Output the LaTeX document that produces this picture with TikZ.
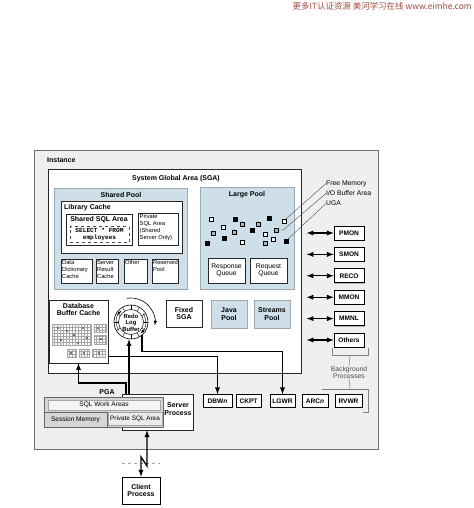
\documentclass[tikz,border=0pt]{standalone}
\usepackage{fontspec}
\setmainfont{Liberation Sans}
\setmonofont{Liberation Mono}
\newfontfamily\cjkfont{Noto Sans CJK SC}
\usetikzlibrary{shadows}
\usetikzlibrary{arrows}

\definecolor{instfill}{HTML}{EFEFEF}
\definecolor{instline}{HTML}{6E6E6E}
\definecolor{poolfill}{HTML}{CFDFEA}
\definecolor{poolline}{HTML}{9AAAB5}
\definecolor{pgafill}{HTML}{D6D6D6}
\definecolor{markred}{HTML}{9E4B3C}

\tikzset{
	lbl/.style={font=\bfseries\fontsize{7}{8}\selectfont, inner sep=0pt, align=center},
	txt/.style={font=\fontsize{6.8}{7.6}\selectfont, inner sep=0pt, align=center},
	tiny/.style={font=\fontsize{5.8}{7}\selectfont, inner sep=0pt, align=left},
	area/.style={draw=black!85, fill=white, line width=0.6pt, inner sep=0pt},
	pool/.style={draw=poolline, fill=poolfill, line width=0.6pt, inner sep=0pt},
	proc/.style={draw=black, fill=white, line width=0.7pt, inner sep=0pt, minimum height=13bp,
		font=\bfseries\fontsize{6.6}{7.4}\selectfont, align=center,
		drop shadow={shadow xshift=0.9bp, shadow yshift=-0.9bp, fill=gray!60, opacity=1}},
	flow/.style={line width=1.3pt, -latex},
	dflow/.style={line width=1.3pt, latex-latex},
	callout/.style={draw=black!70, line width=0.4pt},
	bracket/.style={draw=gray, line width=0.5pt},
	gridline/.style={draw=gray!70, line width=0.25pt},
	cell/.style={draw=black, line width=0.35pt, minimum size=4bp, inner sep=0pt},
}

\begin{document}
\begin{tikzpicture}[x=1bp, y=-1bp]
	\useasboundingbox (0,0) rectangle (474,508);
	\node[anchor=east, text=markred, font=\cjkfont\fontsize{8.5}{9}\selectfont, inner sep=0pt] (wm) at (472,6) {更多IT认证资源 美河学习在线 www.eimhe.com};

	% Instance and SGA
	\node[draw=instline, fill=instfill, line width=0.8pt, minimum width=344bp, minimum height=299bp, inner sep=0pt] (inst) at (206,299.5) {};
	\node[lbl, anchor=west] (inst-t) at (47,160) {Instance};
	\node[area, minimum width=253bp, minimum height=204bp] (sga) at (174.5,271) {};
	\node[lbl] (sga-t) at (176,179) {System Global Area (SGA)};

	% Shared pool
	\node[pool, minimum width=133bp, minimum height=101bp] (shp) at (120.5,238.5) {};
	\node[lbl] (shp-t) at (121,195) {Shared Pool};
	\node[area, minimum width=121bp, minimum height=52bp] (lib) at (121.5,227) {};
	\node[lbl, anchor=west] (lib-t) at (64,207.5) {Library Cache};
	\node[area, minimum width=66bp, minimum height=31bp] (ssql) at (99,229.5) {};
	\node[lbl] (ssql-t) at (99,219.5) {Shared SQL Area};
	\node[draw=black!70, dashed, line width=0.4pt, minimum width=59bp, minimum height=16bp, inner sep=0pt,
		font=\ttfamily\bfseries\fontsize{6.2}{6.8}\selectfont, align=center] (sel) at (99.5,234.5) {SELECT * FROM\\employees};
	\node[area, minimum width=40bp, minimum height=32bp] (psql) at (158,229) {};
	\node[tiny, anchor=north west] (psql-t) at (139.5,214.5) {Private\\SQL Area\\(Shared\\Server Only)};
	\foreach \n/\x/\w/\t in {ddc/76.5/31/{Data\\Dictionary\\Cache}, src/107/22/{Server\\Result\\Cache}, oth2/135.5/23/{Other}, rsv/165/26/{Reserved\\Pool}} {
		\node[area, minimum width=\w bp, minimum height=24bp] (\n) at (\x,271) {};
		\node[tiny, anchor=north west] (\n-t) at ([shift={(1.2bp,-1.2bp)}]\n.north west) {\t};
	}

	% Large pool
	\node[pool, minimum width=94bp, minimum height=102bp] (lgp) at (247,238) {};
	\node[lbl] (lgp-t) at (247,194.5) {Large Pool};
	\node[area, txt, minimum width=37bp, minimum height=25bp, anchor=center] (resq) at (226.5,270.5) {Response\\Queue};
	\node[area, txt, minimum width=37bp, minimum height=25bp, anchor=center] (reqq) at (268.5,270.5) {Request\\Queue};
	\foreach \x/\y/\c [count=\i] in {211/219/white, 235/219/black, 242/224/gray!60, 269/218/black, 258/224/gray!60,
		284/221/white, 223/227/white, 234/232/gray!60, 252/230/black, 265/234/white, 276/230/gray!60,
		213/233/gray!60, 224/238/black, 242/242/white, 265/243/gray!60, 273/239/white, 286/241/black, 207/243/black}
		\node[cell, fill=\c] (sq\i) at (\x,\y) {};
	\node[txt, anchor=west] (fm-t) at (326,183.5) {Free Memory};
	\node[txt, anchor=west] (io-t) at (326,193.5) {I/O Buffer Area};
	\node[txt, anchor=west] (uga-t) at (326,203.5) {UGA};
	\draw[callout] (sq6.north east) -- (fm-t.west);
	\draw[callout] (sq11.east) -- ++(5,0) -- (io-t.west);
	\draw[callout] (sq17.north east) -- (uga-t.west);

	% Database buffer cache
	\node[area, minimum width=59bp, minimum height=63bp] (bc) at (78.5,331.5) {};
	\node[lbl] (bc-t) at (78.5,309.5) {Database\\Buffer Cache};
	\foreach \a/\b/\c/\d in {52/324/91/345, 94/324/106/332, 94/335/106/344, 67/349/76/357, 79/349/89/357, 92/349/105/357} {
		\draw[gridline, step=3bp] (\a,\b) grid (\c,\d);
		\draw[gridline] (\a,\b) rectangle (\c,\d);
	}
	\foreach \x/\y in {57/327, 66/330, 73/334, 82/327, 60/339, 77/342, 86/337, 97/327, 100/338, 70/352, 83/352, 98/352}
		\fill[black!55] (\x,\y) rectangle ++(2,1.5);

	% Redo log buffer
	\node[circle, draw=black, fill=white, line width=0.6pt, minimum size=34bp, inner sep=0pt] (redo) at (131,322) {};
	\draw[line width=0.5pt] (redo.center) circle[radius=12.5bp];
	\foreach \a in {0,30,...,330}
		\draw[line width=0.4pt] (redo.center) ++(\a:12.5bp) -- ++(\a:4.5bp);
	\draw[line width=0.4pt, -latex] (redo.center) ++(215:14.7bp) arc[start angle=215, end angle=130, radius=14.7bp];
	\draw[line width=0.4pt, -latex] (redo.center) ++(35:14.7bp) arc[start angle=35, end angle=-50, radius=14.7bp];
	\draw[line width=0.6pt, -latex] (redo.center) ++(100:24bp) arc[start angle=100, end angle=-8, radius=24bp];
	\node[lbl, font=\bfseries\fontsize{5.9}{6.6}\selectfont] (redo-t) at (131,322.5) {Redo\\Log\\Buffer};

	% Fixed SGA, Java pool, Streams pool
	\node[area, lbl, minimum width=36bp, minimum height=27bp] (fix) at (184,313.5) {Fixed\\SGA};
	\node[pool, lbl, minimum width=36bp, minimum height=28bp] (java) at (229,314) {Java\\Pool};
	\node[pool, lbl, minimum width=36bp, minimum height=28bp] (strm) at (272,314) {Streams\\Pool};

	% Background processes
	\foreach \n/\t [count=\i from 0] in {pmon/PMON, smon/SMON, reco/RECO, mmon/MMON, mmnl/MMNL, oth/Others} {
		\node[proc, minimum width=30bp, minimum height=14bp] (\n) at (349,233+21.4*\i) {\t};
		\draw[dflow] (\n.west) -- ++(-27,0);
	}
	\foreach \n/\t/\x/\w in {dbwr/{DBW\textit{n}}/217.5/29, ckpt/CKPT/248.5/25, lgwr/LGWR/282.5/25, arcn/{ARC\textit{n}}/315/26, rvwr/RVWR/348.5/27}
		\node[proc, minimum width=\w bp] (\n) at (\x,401) {\t};
	\node[txt, text=black!70] (bg-t) at (349,372.5) {Background\\Processes};
	\draw[bracket] (332,348) -- (332,355) -- (368,355) -- (368,348);
	\draw[bracket] (350,355) -- (bg-t.north);
	\draw[bracket] (bg-t.south) -- (350,389);
	\draw[bracket] (322,389) -- (368,389) -- (368,412) -- (363,412);

	% Server process and PGA
	\node[area, line width=0.7pt, minimum width=71bp, minimum height=36bp] (srv) at (157.5,412) {};
	\node[lbl] (srv-t) at (178,409.5) {Server\\Process};
	\node[lbl] (pga-t) at (107,392) {PGA};
	\node[draw=gray!80!black, fill=pgafill, line width=0.6pt, minimum width=119bp, minimum height=30bp, inner sep=0pt] (pga) at (103.5,412) {};
	\node[draw=gray!70, fill=white!96!black, line width=0.5pt, minimum width=112bp, minimum height=10bp, inner sep=0pt,
		font=\fontsize{6.6}{7}\selectfont] (swa) at (104,405) {SQL Work Areas};
	\node[draw=gray!80!black, fill=pgafill, line width=0.5pt, minimum width=63bp, minimum height=15bp, inner sep=0pt,
		font=\fontsize{6.6}{7}\selectfont] (sesm) at (75.5,419.5) {Session Memory};
	\node[draw=gray!70, fill=white!92!black, line width=0.5pt, minimum width=54bp, minimum height=13bp, inner sep=0pt,
		font=\fontsize{6.4}{7}\selectfont] (ppsql) at (135,419) {Private SQL Area};

	% Data flow
	\draw[flow] ([yshift=7bp]bc.south east) -| (dbwr.north);
	\draw[flow] (redo.-50) -- ++(0,16) -| (lgwr.north);
	\draw[flow] ([xshift=-2bp]redo.south |- srv.north) -- ([xshift=-2bp]redo.south);
	\coordinate (pgabend) at (126,383);
	\draw[flow] (pgabend |- srv.north) -- (pgabend) -| (bc.south);

	% Client connection
	\node[proc, lbl, minimum width=38bp, minimum height=27bp] (client) at (141,490.5) {Client\\Process};
	\draw[gray!70, dashed, line width=0.6pt] (122,463) -- (160,463);
	\coordinate (zz1) at (147,466);
	\coordinate (zz2) at (141,457);
	\draw[dflow] (srv.south -| zz1) -- (zz1) -- (zz2) -- (client.north -| zz2);
\end{tikzpicture}
\end{document}
